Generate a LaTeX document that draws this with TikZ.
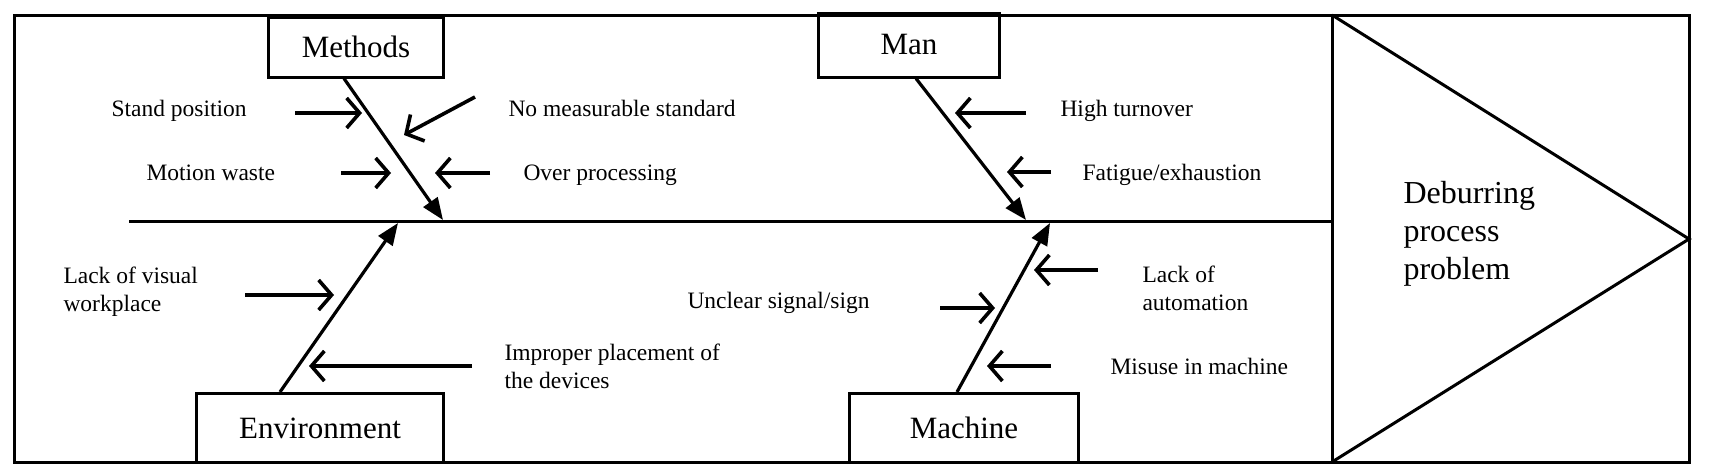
\documentclass[tikz,border=0pt]{standalone}
\usepackage{fontspec}
\setmainfont{Liberation Serif}
\usetikzlibrary{arrows.meta}
\begin{document}
\begin{tikzpicture}[x=1pt,y=-1pt,line width=3pt,
  cat/.style={draw,line width=3pt,font=\fontsize{31}{36}\selectfont,inner sep=0pt},
  lab/.style={font=\fontsize{23.5}{28}\selectfont,inner sep=0pt,align=left},
  bone/.style={line width=3.2pt,-{Triangle[length=22pt,width=17pt]}},
  sub/.style={line width=3.6pt,-{Straight Barb[length=13pt,width=30pt,line width=3.6pt]}}]
\useasboundingbox (0,0) rectangle (1715,466);
\draw[line width=3pt] (14,15) rectangle (1689,462);
\draw[line width=3pt] (1332,15) -- (1332,462);
\draw[line width=3pt] (1332,15) -- (1689,239) -- (1332,462);
\node[font=\fontsize{32}{38}\selectfont,align=left,anchor=north west,inner sep=0pt] (prob) at (1402,180) {Deburring\\process\\problem};
\coordinate (s0) at (129,221);
\coordinate (s1) at (1332,221);
\draw[line width=3pt] (s0) -- (s1);
% category boxes
\node[cat,minimum width=175pt,minimum height=60pt] (meth) at (356,47) {Methods};
\node[cat,minimum width=181pt,minimum height=64pt] (man) at (909,45) {Man};
\node[cat,minimum width=247pt,minimum height=69pt] (env) at (320,428) {Environment};
\node[cat,minimum width=229pt,minimum height=69pt] (mach) at (964,428) {Machine};
\coordinate (m1) at (443,220); \coordinate (m2) at (1026,220);
\coordinate (e1) at (398,223); \coordinate (e2) at (1050,223);
\draw[bone] (meth.south -| 344,0) -- (m1);
\draw[bone] (man.south -| 916,0) -- (m2);
\draw[bone] (env.north -| 280,0) -- (e1);
\draw[bone] (mach.north -| 957,0) -- (e2);
% labels
\node[lab,anchor=base west] (l1) at (110,116) {Stand position};
\node[lab,anchor=base west] (l2) at (507,116) {No measurable standard};
\node[lab,anchor=base west] (l3) at (145,180) {Motion waste};
\node[lab,anchor=base west] (l4) at (522,180) {Over processing};
\node[lab,anchor=base west] (l5) at (1059,116) {High turnover};
\node[lab,anchor=base west] (l6) at (1081,180) {Fatigue/exhaustion};
\node[lab,anchor=north west] (l7) at (62,265) {Lack of visual\\workplace};
\node[lab,anchor=north west] (l8) at (503,342) {Improper placement of\\the devices};
\node[lab,anchor=base west] (l9) at (686,308) {Unclear signal/sign};
\node[lab,anchor=north west] (l10) at (1141,264) {Lack of\\automation};
\node[lab,anchor=base west] (l11) at (1109,374) {Misuse in machine};
% sub-cause arrows
\coordinate (a1s) at (295,113); \coordinate (a1e) at (362,113);
\coordinate (a2s) at (475,97);  \coordinate (a2e) at (404,135);
\coordinate (a3s) at (341,173); \coordinate (a3e) at (391,173);
\coordinate (a4s) at (490,173); \coordinate (a4e) at (435,173);
\coordinate (a5s) at (1026,113); \coordinate (a5e) at (955,113);
\coordinate (a6s) at (1051,172); \coordinate (a6e) at (1007,172);
\coordinate (a7s) at (245,295); \coordinate (a7e) at (334,295);
\coordinate (a8s) at (472,366); \coordinate (a8e) at (309,366);
\coordinate (a9s) at (940,308); \coordinate (a9e) at (995,308);
\coordinate (a10s) at (1098,270); \coordinate (a10e) at (1034,270);
\coordinate (a11s) at (1051,366); \coordinate (a11e) at (987,366);
\foreach \i in {1,...,11} \draw[sub] (a\i s) -- (a\i e);
\end{tikzpicture}
\end{document}
